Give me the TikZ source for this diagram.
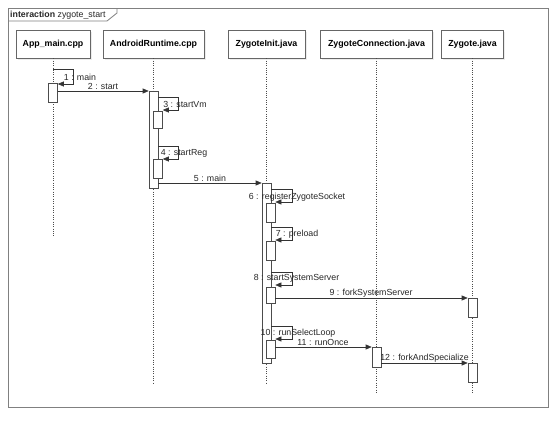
\documentclass[tikz,border=0pt]{standalone}
\usepackage{fontspec}
\setmainfont{Liberation Sans}
\usetikzlibrary{arrows.meta,shadows}
\begin{document}
\begin{tikzpicture}[x=1pt,y=-1pt,
  frame/.style={draw=black!50, line width=0.8pt},
  head/.style={draw=black!60, fill=white, line width=0.6pt, minimum width=#1, minimum height=28pt, inner sep=0pt,
    font=\fontsize{8.8}{10}\selectfont\bfseries,
    drop shadow={shadow xshift=1.5pt, shadow yshift=-1.5pt, fill=black!15}},
  life/.style={draw=black!70, dash pattern=on 1pt off 1.3pt, line width=0.6pt},
  act/.style={draw=black!70, fill=white, line width=0.6pt, minimum width=9pt, minimum height=#1, inner sep=0pt, anchor=north},
  msg/.style={draw=black!80, line width=0.6pt, -{Triangle[length=6pt,width=5pt]}},
  lbl/.style={font=\fontsize{8.8}{10}\selectfont, inner sep=0pt, text=black!85},
]
\useasboundingbox (0,0) rectangle (553,421);
% frame
\draw[frame] (8,8) rectangle (548,407);
\draw[frame] (8,21) -- (107,21) -- (117,13) -- (117,8);
\node[lbl, anchor=west] (title) at (10,15) {\textbf{interaction} zygote\_start};

% heads
\node[head=74pt]  (hApp) at (53,44)    {App\_main.cpp};
\node[head=101pt] (hAR)  at (153.5,44) {AndroidRuntime.cpp};
\node[head=77pt]  (hZI)  at (266.5,44) {ZygoteInit.java};
\node[head=112pt] (hZC)  at (376.5,44) {ZygoteConnection.java};
\node[head=62pt]  (hZy)  at (472.5,44) {Zygote.java};

% lifeline ends
\coordinate (eApp) at (53,237);
\coordinate (eAR) at (153.5,383);
\coordinate (eZI) at (266.5,383);
\coordinate (eZC) at (376.5,392);
\coordinate (eZy) at (472.5,392);
\draw[life] (hApp.south) -- (eApp);
\draw[life] (hAR.south) -- (eAR);
\draw[life] (hZI.south) -- (eZI);
\draw[life] (hZC.south) -- (eZC);
\draw[life] (hZy.south) -- (eZy);

% activations
\node[act=19pt]  (aApp)  at (53,83) {};
\node[act=97pt]  (aAR)   at (153.5,91) {};
\node[act=17pt]  (aAR3)  at (158,111) {};
\node[act=19pt]  (aAR4)  at (158,159) {};
\node[act=180pt] (aZI)   at (266.5,183) {};
\node[act=19pt]  (aZI6)  at (270.5,203) {};
\node[act=19pt]  (aZI7)  at (270.5,241) {};
\node[act=16pt]  (aZI8)  at (270.5,287) {};
\node[act=18pt]  (aZI10) at (270.5,340) {};
\node[act=20pt]  (aZC)   at (376.5,347) {};
\node[act=19pt]  (aZy1)  at (472.5,298) {};
\node[act=19pt]  (aZy2)  at (472.5,363) {};

% messages
\draw[msg] (hApp.south |- 0,69) -- ++(20,0) -- ++(0,15) -- (aApp.east |- 0,84);
\draw[msg] (aApp.east |- 0,91) -- (aAR.west |- 0,91);
\draw[msg] (aAR.east |- 0,97) -- ++(20,0) -- ++(0,13) -- (aAR3.east |- 0,110);
\draw[msg] (aAR.east |- 0,146) -- ++(20,0) -- ++(0,13) -- (aAR4.east |- 0,159);
\draw[msg] (aAR.east |- 0,183) -- (aZI.north west);
\draw[msg] (aZI.east |- 0,189) -- ++(21,0) -- ++(0,13) -- (aZI6.east |- 0,202);
\draw[msg] (aZI.east |- 0,227) -- ++(21,0) -- ++(0,13) -- (aZI7.east |- 0,240);
\draw[msg] (aZI.east |- 0,272) -- ++(21,0) -- ++(0,13) -- (aZI8.east |- 0,285);
\draw[msg] (aZI8.east |- 0,298) -- (aZy1.north west);
\draw[msg] (aZI.east |- 0,326) -- ++(21,0) -- ++(0,13) -- (aZI10.east |- 0,339);
\draw[msg] (aZI10.east |- 0,347) -- (aZC.north west);
\draw[msg] (aZC.east |- 0,363) -- (aZy2.north west);

% labels
\node[lbl] (l1)  at (80,77)    {1 : main};
\node[lbl] (l2)  at (103,86)   {2 : start};
\node[lbl] (l3)  at (185,104)  {3 : startVm};
\node[lbl] (l4)  at (184,153)  {4 : startReg};
\node[lbl] (l5)  at (210,178)  {5 : main};
\node[lbl] (l6)  at (297,197)  {6 : registerZygoteSocket};
\node[lbl] (l7)  at (297,234)  {7 : preload};
\node[lbl] (l8)  at (296.5,278) {8 : startSystemServer};
\node[lbl] (l9)  at (371,293)  {9 : forkSystemServer};
\node[lbl] (l10) at (298,333)  {10 : runSelectLoop};
\node[lbl] (l11) at (323,342)  {11 : runOnce};
\node[lbl] (l12) at (424.5,358) {12 : forkAndSpecialize};
\end{tikzpicture}
\end{document}
